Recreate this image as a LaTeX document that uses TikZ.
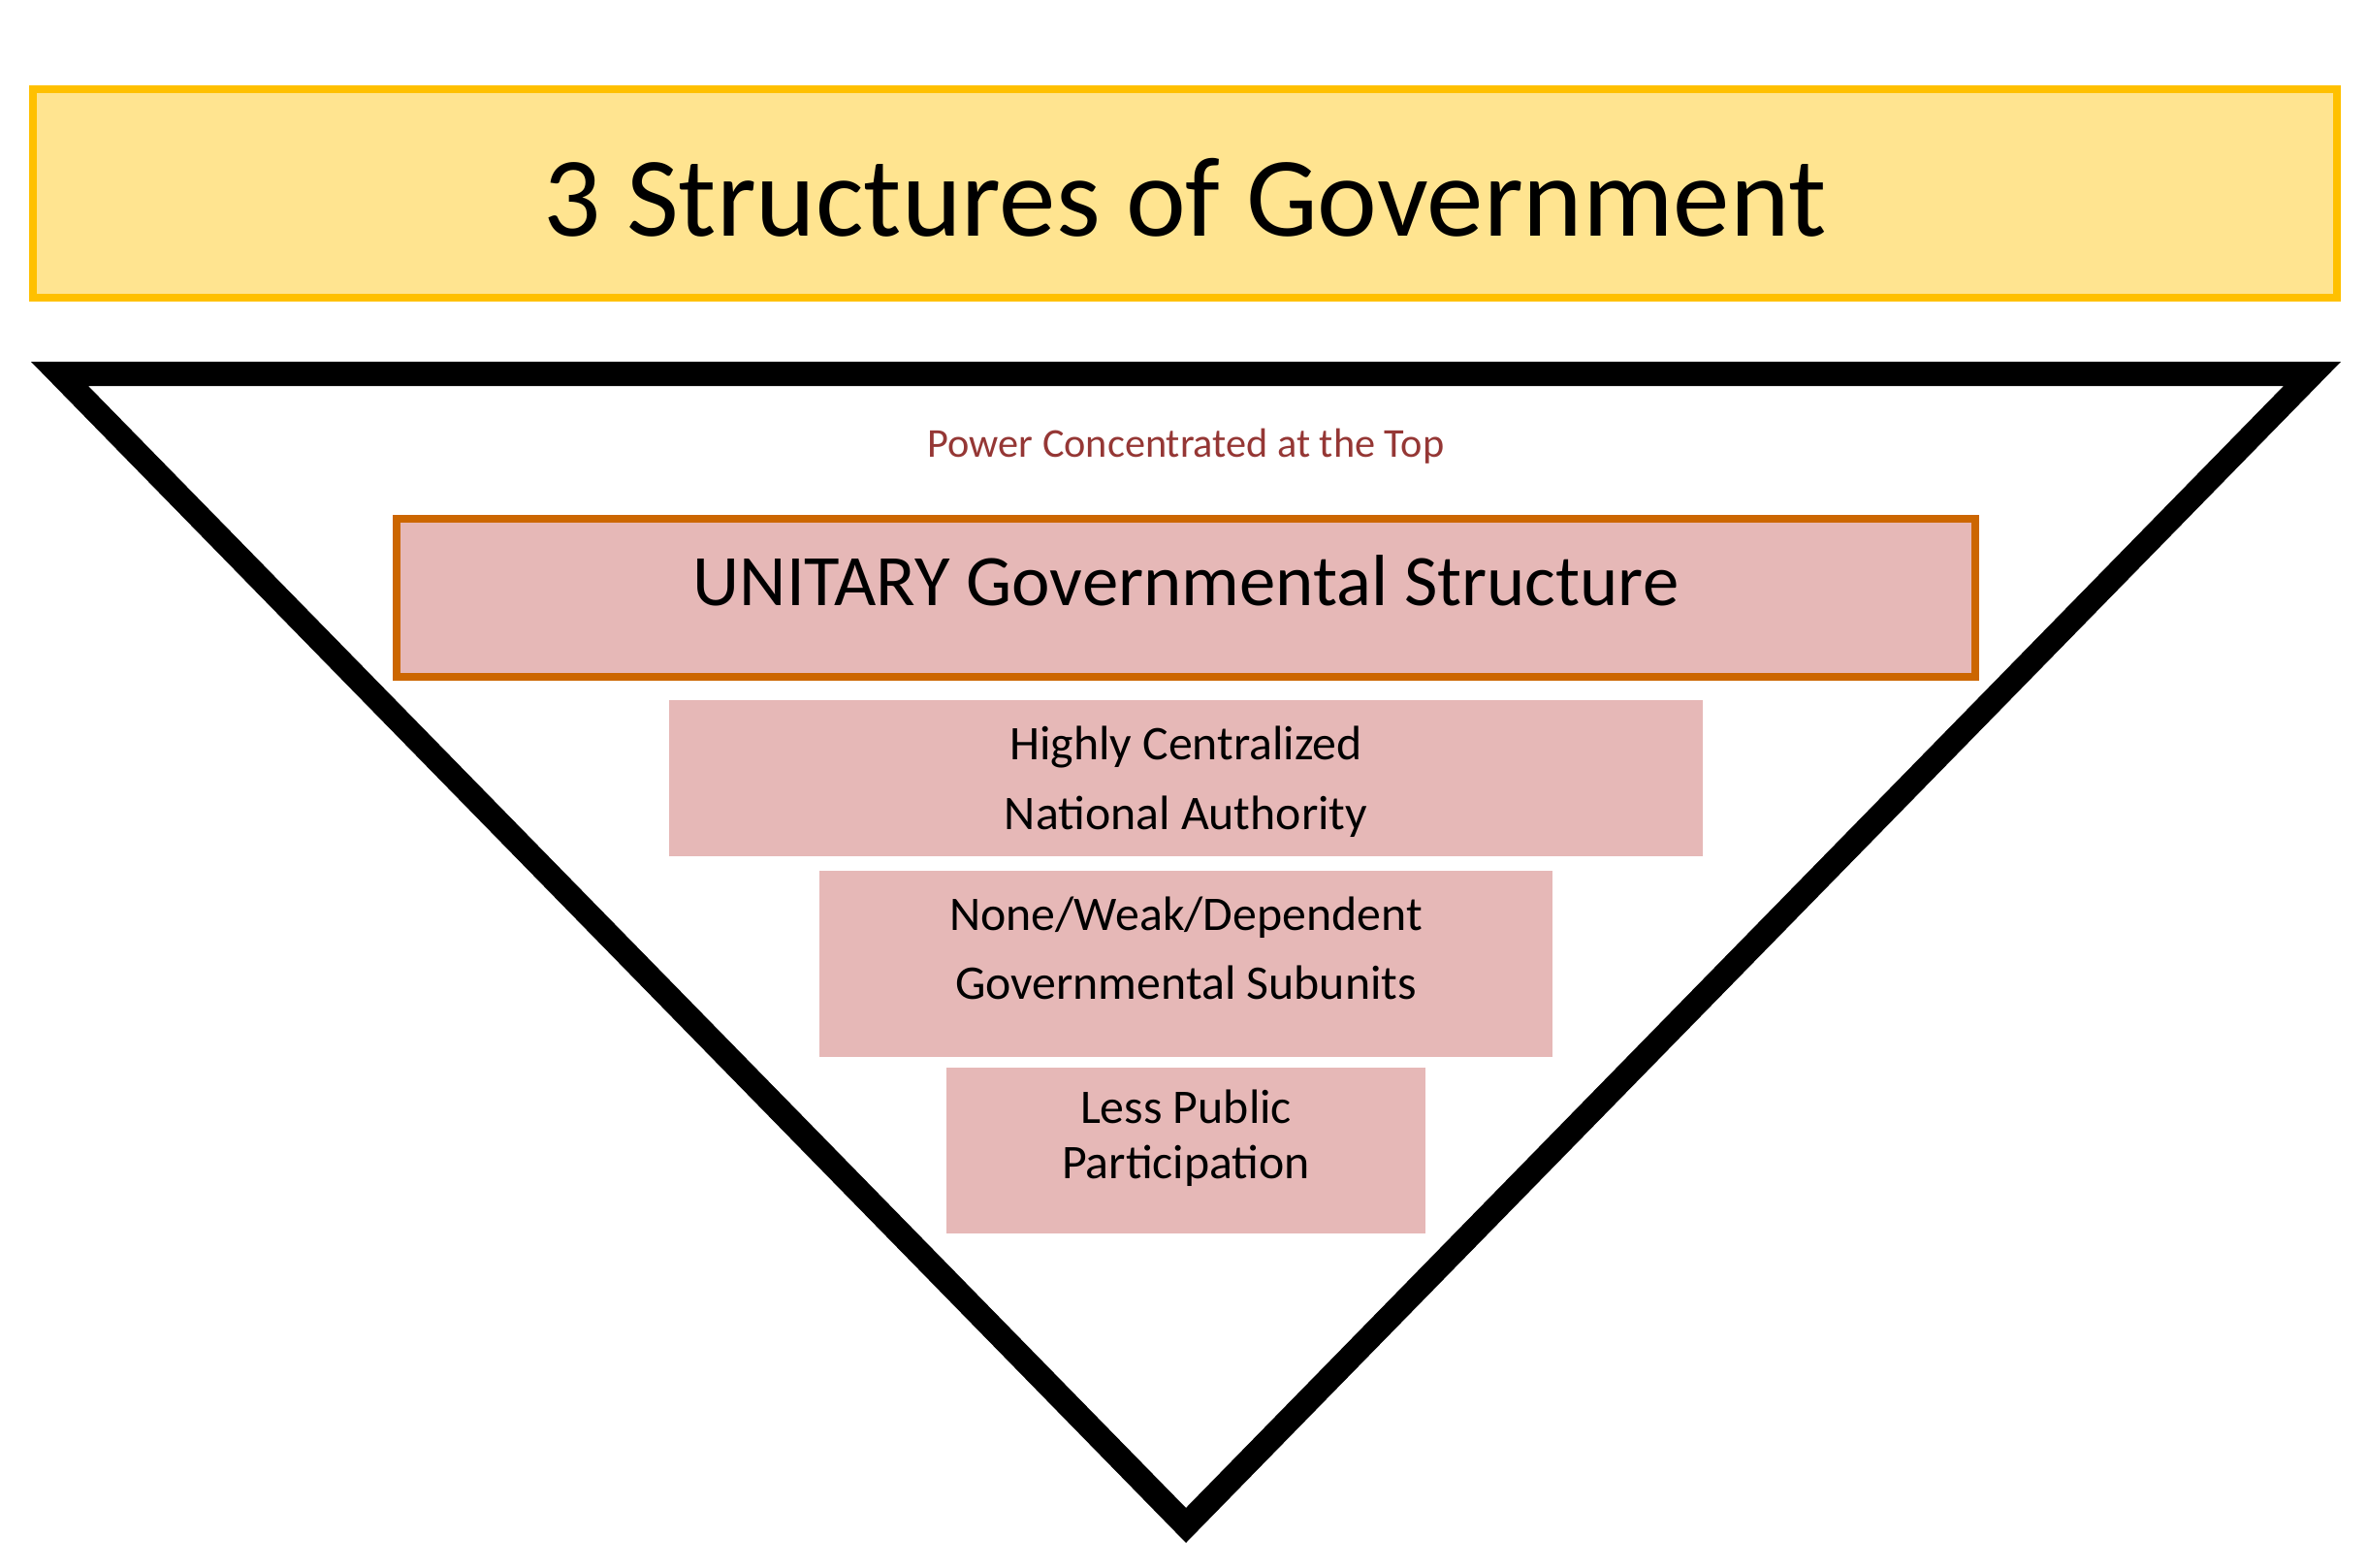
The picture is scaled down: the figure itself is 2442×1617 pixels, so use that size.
\documentclass[tikz,border=0pt]{standalone}
\usepackage{fontspec}
\setmainfont{Carlito}
\definecolor{titlefill}{HTML}{FFE490}
\definecolor{titleline}{HTML}{FFC000}
\definecolor{pinkfill}{HTML}{E6B8B7}
\definecolor{orangeline}{HTML}{CC6600}
\definecolor{powerred}{HTML}{953735}
\begin{document}
\begin{tikzpicture}[x=1pt,y=-1pt,
  box/.style={fill=pinkfill, inner sep=0pt, outer sep=0pt},
  bodytext/.style={anchor=base, inner sep=0pt, font=\fontsize{49.8}{58}\selectfont, text=black}]
\useasboundingbox (0,0) rectangle (2442,1617);
% title
\node (title) [draw=titleline, fill=titlefill, line width=8pt, inner sep=0pt,
  minimum width=2376pt, minimum height=215pt] at (1222,199.5) {};
\node (titletext) [anchor=base, inner sep=0pt, font=\fontsize{117}{140}\selectfont] at (1222,243) {3 Structures of Government};
% inverted triangle
\fill[black, even odd rule] (32,373) -- (2414,373) -- (1223,1591) -- cycle
  (91,398) -- (2355,398) -- (1223,1555) -- cycle;
% power text
\node (power) [anchor=base, inner sep=0pt, text=powerred, font=\fontsize{42.3}{50}\selectfont] at (1223,471) {Power Concentrated at the Top};
% unitary box
\node (unitary) [box, draw=orangeline, line width=8pt, minimum width=1628pt, minimum height=163pt] at (1223,616.5) {};
\node (unitarytext) [anchor=base, inner sep=0pt, font=\fontsize{74.8}{88}\selectfont] at (1223,624) {UNITARY Governmental Structure};
% box 2
\node (central) [box, minimum width=1066pt, minimum height=161pt] at (1223,802.5) {};
\node (centralA) [bodytext] at (1223,783) {Highly Centralized};
\node (centralB) [bodytext] at (1223,855) {National Authority};
% box 3
\node (subunits) [box, minimum width=756pt, minimum height=192pt] at (1223,994) {};
\node (subunitsA) [bodytext] at (1223,959) {None/Weak/Dependent};
\node (subunitsB) [bodytext] at (1223,1030) {Governmental Subunits};
% box 4
\node (public) [box, minimum width=494pt, minimum height=171pt] at (1223,1186.5) {};
\node (publicA) [bodytext] at (1223,1158) {Less Public};
\node (publicB) [bodytext] at (1223,1215) {Participation};
\end{tikzpicture}
\end{document}
